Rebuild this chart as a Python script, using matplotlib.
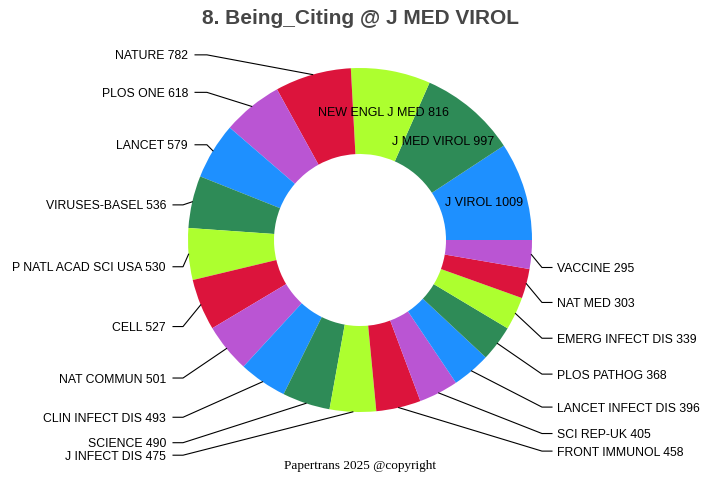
import numpy as np
import matplotlib
matplotlib.use('Agg')
import matplotlib.pyplot as plt

# citing journals and counts, in drawing order (counterclockwise from 3 o'clock)
journals = ['J VIROL', 'J MED VIROL', 'NEW ENGL J MED', 'NATURE', 'PLOS ONE',
            'LANCET', 'VIRUSES-BASEL', 'P NATL ACAD SCI USA', 'CELL', 'NAT COMMUN',
            'CLIN INFECT DIS', 'SCIENCE', 'J INFECT DIS', 'FRONT IMMUNOL',
            'SCI REP-UK', 'LANCET INFECT DIS', 'PLOS PATHOG', 'EMERG INFECT DIS',
            'NAT MED', 'VACCINE']
counts = [1009, 997, 816, 782, 618, 579, 536, 530, 527, 501,
          493, 490, 475, 458, 405, 396, 368, 339, 303, 295]
palette = ['#1E90FF', '#2E8B57', '#ADFF2F', '#DC143C', '#BA55D3']
n_inside = 3  # biggest slices get their label inside the ring

plt.rcParams['font.family'] = ['Liberation Sans', 'DejaVu Sans']

R_PX = 172.0  # outer radius in pixels
MIN_GAP = 12.5 / R_PX
fig = plt.figure(figsize=(7.2, 4.8), dpi=100)
ax = fig.add_axes([0, 0, 1, 1])

colors = [palette[i % len(palette)] for i in range(len(counts))]
wedges, _ = ax.pie(counts, colors=colors, startangle=0, counterclock=True,
                   radius=1.0, wedgeprops=dict(width=0.5, linewidth=0))

ax.set_xlim(-360 / R_PX, 360 / R_PX)
ax.set_ylim(-240 / R_PX, 240 / R_PX)
ax.set_aspect('equal')
ax.axis('off')

outside = []
for i, w in enumerate(wedges):
    mid = np.deg2rad((w.theta1 + w.theta2) / 2.0)
    c, s = np.cos(mid), np.sin(mid)
    label = '%s %d' % (journals[i], counts[i])
    if i < n_inside:
        ax.text(0.75 * c, 0.75 * s, label, ha='center', va='center',
                fontsize=9, color='black')
        continue
    if c >= 0:
        y_lab = -10 / R_PX + 1.2 * s
        geom = (1.058, 1.116, 1.145, 'left')
    elif s > 0.4:
        y_lab = -10 / R_PX + 1.18 * s
        geom = (-0.890, -0.959, -1.0, 'right')
    else:
        y_lab = -10 / R_PX + 1.18 * s
        geom = (-1.029, -1.087, -1.128, 'right')
    outside.append([c, s, y_lab, geom, label])

# push labels apart (top to bottom) on each side
for side in (1, -1):
    grp = sorted([o for o in outside if np.sign(o[0]) == side], key=lambda o: -o[2])
    for a, b in zip(grp[:-1], grp[1:]):
        if a[2] - b[2] < MIN_GAP:
            b[2] = a[2] - MIN_GAP

for c, s, y_lab, (x_elb, x_end, x_txt, ha), label in outside:
    ax.plot([c, x_elb, x_end], [s, y_lab, y_lab], color='black', lw=0.8)
    ax.text(x_txt, y_lab, label, ha=ha, va='center_baseline', fontsize=8.8,
            color='black')

fig.text(0.5, 1 - 18 / 480., '8. Being_Citing @ J MED VIROL', ha='center',
         va='center', fontsize=15, fontweight='bold', color='#464646')
fig.text(0.5, 1 - 466 / 480., 'Papertrans 2025 @copyright', ha='center',
         va='center', fontsize=9.5, family='Liberation Serif', color='black')

plt.savefig('out.png', dpi=100)
